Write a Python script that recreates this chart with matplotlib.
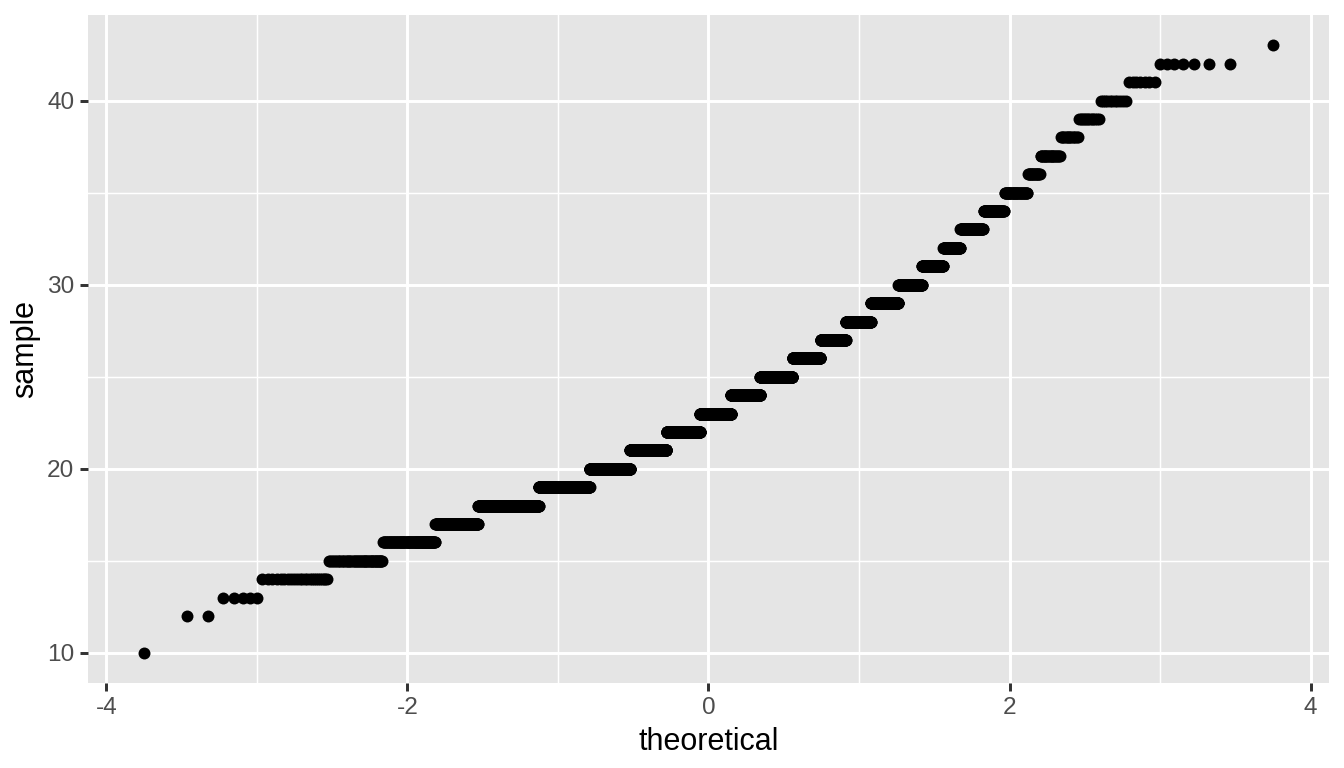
import numpy as np
import matplotlib
matplotlib.use("Agg")
import matplotlib.pyplot as plt
from statistics import NormalDist

plt.rcParams['font.family'] = ['Liberation Sans', 'DejaVu Sans']

# sample values and how many times each one occurs
values = np.arange(10, 44)
counts = np.array([1, 0, 2, 5, 24, 53, 109, 158, 374, 477, 484, 498, 490, 458,
                   421, 431, 336, 265, 228, 206, 143, 104, 69, 74, 52, 43, 18,
                   23, 15, 13, 11, 7, 7, 1])

x_ticks = [-4, -2, 0, 2, 4]
y_ticks = [10, 20, 30, 40]

sample = np.repeat(values, counts)
n = len(sample)
# theoretical normal quantiles as in stat_qq (ppoints)
a = 0.5 if n > 10 else 3 / 8
p = (np.arange(1, n + 1) - a) / (n + 1 - 2 * a)
nd = NormalDist()
theoretical = np.array([nd.inv_cdf(q) for q in p])

fig = plt.figure(figsize=(6.72, 3.84), dpi=200)
ax = fig.add_axes([88 / 1344, 1 - 683.3 / 768, (1329 - 88) / 1344, (683.3 - 15) / 768])
ax.set_facecolor('#E5E5E5')

ax.plot(theoretical, sample, 'o', color='black', ms=4.3, mew=0)

xr = theoretical.max() - theoretical.min()
yr = sample.max() - sample.min()
ax.set_xlim(theoretical.min() - 0.05 * xr, theoretical.max() + 0.05 * xr)
ax.set_ylim(sample.min() - 0.05 * yr, sample.max() + 0.05 * yr)

ax.set_xticks(x_ticks)
ax.set_yticks(y_ticks)
ax.set_xticklabels([str(t) for t in x_ticks])
ax.set_yticks([15, 25, 35], minor=True)
ax.set_xticks([-3, -1, 1, 3], minor=True)
ax.grid(True, which='major', color='white', linewidth=1.07)
ax.grid(True, which='minor', color='white', linewidth=0.53)
ax.set_axisbelow(True)
for s in ax.spines.values():
    s.set_visible(False)
ax.tick_params(which='major', length=2.75, width=1.07, color='#333333',
               labelsize=8.8, labelcolor='#4D4D4D', pad=2.2)
ax.tick_params(which='minor', length=0)

ax.set_xlabel('theoretical', fontsize=11, labelpad=3)
ax.set_ylabel('sample', fontsize=11, labelpad=2.5)

fig.savefig('out.png', dpi=200)
